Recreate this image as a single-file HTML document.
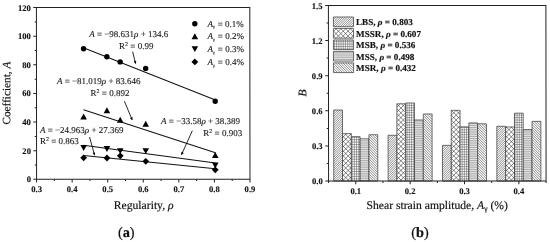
<!DOCTYPE html><html><head><meta charset="utf-8"><title>Figure</title><style>
html,body{margin:0;padding:0;background:#fff;}body{width:550px;height:242px;overflow:hidden;}svg{display:block;}
text{font-family:"Liberation Serif","DejaVu Serif",serif;fill:#111;text-rendering:geometricPrecision;}
.tk{font-weight:bold;font-size:8.6px;stroke:#111;stroke-width:0.12px;}.eq{font-size:9px;fill:#1a1a1a;stroke:#1a1a1a;stroke-width:0.12px;}.ax{font-size:11.65px;stroke:#111;stroke-width:0.17px;}.lg{font-weight:bold;font-size:9.15px;stroke:#111;stroke-width:0.15px;}.cap{font-size:14.3px;stroke:#111;stroke-width:0.2px;}
.i{font-style:italic;}
</style></head><body>
<svg width="550" height="242" viewBox="0 0 550 242">
<rect width="550" height="242" fill="#fff"/>
<g transform="matrix(1 0 0.001 1 0 0)">
<defs>
<marker id="ah" viewBox="0 0 10 10" refX="9" refY="5" markerWidth="5.6" markerHeight="3.3" orient="auto"><path d="M0 0L10 5L0 10z" fill="#111"/></marker>
</defs>
<rect x="36.4" y="7.6" width="213.40" height="171.70" fill="none" stroke="#222" stroke-width="1"/>
<path d="M33.20 179.30H36.4M34.60 164.99H36.4M33.20 150.68H36.4M34.60 136.38H36.4M33.20 122.07H36.4M34.60 107.76H36.4M33.20 93.45H36.4M34.60 79.14H36.4M33.20 64.83H36.4M34.60 50.53H36.4M33.20 36.22H36.4M34.60 21.91H36.4M33.20 7.60H36.4M36.40 179.3V182.50M54.18 179.3V181.10M71.97 179.3V182.50M89.75 179.3V181.10M107.53 179.3V182.50M125.32 179.3V181.10M143.10 179.3V182.50M160.88 179.3V181.10M178.67 179.3V182.50M196.45 179.3V181.10M214.23 179.3V182.50M232.02 179.3V181.10M249.80 179.3V182.50" stroke="#222" stroke-width="1" fill="none"/>
<text class="tk" x="30.80" y="182.20" text-anchor="end">0</text>
<text class="tk" x="30.80" y="153.58" text-anchor="end">20</text>
<text class="tk" x="30.80" y="124.97" text-anchor="end">40</text>
<text class="tk" x="30.80" y="96.35" text-anchor="end">60</text>
<text class="tk" x="30.80" y="67.73" text-anchor="end">80</text>
<text class="tk" x="30.80" y="39.12" text-anchor="end">100</text>
<text class="tk" x="30.80" y="10.50" text-anchor="end">120</text>
<text class="tk" x="36.40" y="192" text-anchor="middle">0.3</text>
<text class="tk" x="71.97" y="192" text-anchor="middle">0.4</text>
<text class="tk" x="107.53" y="192" text-anchor="middle">0.5</text>
<text class="tk" x="143.10" y="192" text-anchor="middle">0.6</text>
<text class="tk" x="178.67" y="192" text-anchor="middle">0.7</text>
<text class="tk" x="214.23" y="192" text-anchor="middle">0.8</text>
<text class="tk" x="249.80" y="192" text-anchor="middle">0.9</text>
<text class="ax" style="font-size:11.25px" transform="translate(10.1 93.1) rotate(-90)" text-anchor="middle">Coefficient, <tspan class="i">A</tspan></text>
<text class="ax" x="143.5" y="208.6" text-anchor="middle">Regularity, <tspan class="i">ρ</tspan></text>
<text class="cap" x="126" y="237" text-anchor="middle">(<tspan font-weight="bold">a</tspan>)</text>
<line x1="83.35" y1="47.68" x2="215.30" y2="100.03" stroke="#111" stroke-width="1"/>
<line x1="83.35" y1="109.70" x2="215.30" y2="152.70" stroke="#111" stroke-width="1"/>
<line x1="83.35" y1="145.13" x2="215.30" y2="162.95" stroke="#111" stroke-width="1"/>
<line x1="83.35" y1="155.57" x2="215.30" y2="168.82" stroke="#111" stroke-width="1"/>
<circle cx="83.5" cy="48.8" r="2.7" fill="#000"/>
<circle cx="106.8" cy="56.7" r="2.7" fill="#000"/>
<circle cx="120.1" cy="61.9" r="2.7" fill="#000"/>
<circle cx="145.6" cy="68.4" r="2.7" fill="#000"/>
<circle cx="215.1" cy="101.2" r="2.7" fill="#000"/>
<path d="M80.20 119.54L86.80 119.54L83.50 113.60z" fill="#000"/>
<path d="M103.50 113.14L110.10 113.14L106.80 107.20z" fill="#000"/>
<path d="M116.80 122.74L123.40 122.74L120.10 116.80z" fill="#000"/>
<path d="M142.30 126.64L148.90 126.64L145.60 120.70z" fill="#000"/>
<path d="M211.80 157.94L218.40 157.94L215.10 152.00z" fill="#000"/>
<path d="M80.20 144.96L86.80 144.96L83.50 150.90z" fill="#000"/>
<path d="M103.50 145.96L110.10 145.96L106.80 151.90z" fill="#000"/>
<path d="M116.80 148.16L123.40 148.16L120.10 154.10z" fill="#000"/>
<path d="M142.30 148.16L148.90 148.16L145.60 154.10z" fill="#000"/>
<path d="M211.80 162.56L218.40 162.56L215.10 168.50z" fill="#000"/>
<path d="M80.10 157.80L83.50 154.40L86.90 157.80L83.50 161.20z" fill="#000"/>
<path d="M103.40 158.00L106.80 154.60L110.20 158.00L106.80 161.40z" fill="#000"/>
<path d="M116.70 155.80L120.10 152.40L123.50 155.80L120.10 159.20z" fill="#000"/>
<path d="M142.20 161.30L145.60 157.90L149.00 161.30L145.60 164.70z" fill="#000"/>
<path d="M211.70 169.80L215.10 166.40L218.50 169.80L215.10 173.20z" fill="#000"/>
<circle cx="194.8" cy="23.7" r="2.7" fill="#000"/>
<path d="M191.50 39.24L198.10 39.24L194.80 33.30z" fill="#000"/>
<path d="M191.50 46.16L198.10 46.16L194.80 52.10z" fill="#000"/>
<path d="M191.40 61.90L194.80 58.50L198.20 61.90L194.80 65.30z" fill="#000"/>
<text class="eq" x="207.5" y="26.6"><tspan class="i">A</tspan><tspan font-size="5px" dy="1.8" dx="-0.3">γ</tspan><tspan dy="-1.8" dx="0.6"> = 0.1%</tspan></text>
<text class="eq" x="207.5" y="39.3"><tspan class="i">A</tspan><tspan font-size="5px" dy="1.8" dx="-0.3">γ</tspan><tspan dy="-1.8" dx="0.6"> = 0.2%</tspan></text>
<text class="eq" x="207.5" y="52.0"><tspan class="i">A</tspan><tspan font-size="5px" dy="1.8" dx="-0.3">γ</tspan><tspan dy="-1.8" dx="0.6"> = 0.3%</tspan></text>
<text class="eq" x="207.5" y="64.8"><tspan class="i">A</tspan><tspan font-size="5px" dy="1.8" dx="-0.3">γ</tspan><tspan dy="-1.8" dx="0.6"> = 0.4%</tspan></text>
<text class="eq" x="168.2" y="37" text-anchor="end"><tspan class="i">A</tspan> = −98.631<tspan class="i">ρ</tspan> + 134.6</text>
<text class="eq" x="153.4" y="49.0" text-anchor="end">R<tspan font-size="6px" dy="-3.2">2</tspan><tspan dy="3.2"> = 0.99</tspan></text>
<text class="eq" x="140.4" y="83.7" text-anchor="end"><tspan class="i">A</tspan> = −81.019<tspan class="i">ρ</tspan> + 83.646</text>
<text class="eq" x="129.3" y="95.9" text-anchor="end">R<tspan font-size="6px" dy="-3.2">2</tspan><tspan dy="3.2"> = 0.892</tspan></text>
<text class="eq" x="39.8" y="132.8" text-anchor="start"><tspan class="i">A</tspan> = −24.963<tspan class="i">ρ</tspan> + 27.369</text>
<text class="eq" x="39.8" y="144.2" text-anchor="start">R<tspan font-size="6px" dy="-3.2">2</tspan><tspan dy="3.2"> = 0.863</tspan></text>
<text class="eq" x="240.0" y="124.2" text-anchor="end"><tspan class="i">A</tspan> = −33.58<tspan class="i">ρ</tspan> + 38.389</text>
<text class="eq" x="242" y="136.2" text-anchor="end">R<tspan font-size="6px" dy="-3.2">2</tspan><tspan dy="3.2"> = 0.903</tspan></text>
<line x1="132.6" y1="51.6" x2="135.5" y2="63.6" stroke="#111" stroke-width="0.9" marker-end="url(#ah)"/>
<line x1="124.3" y1="101.2" x2="132.1" y2="120.0" stroke="#111" stroke-width="0.9" marker-end="url(#ah)"/>
<line x1="89.4" y1="137.0" x2="94.4" y2="155.1" stroke="#111" stroke-width="0.9" marker-end="url(#ah)"/>
<line x1="192.2" y1="130.7" x2="181.3" y2="154.8" stroke="#111" stroke-width="0.9" marker-end="url(#ah)"/>
<rect x="333.59" y="110.00" width="8.80" height="71.10" fill="#fff"/><path d="M333.59 111.91L335.50 110.00M333.59 114.16L337.75 110.00M333.59 116.41L340.00 110.00M333.59 118.66L342.25 110.00M333.59 120.91L342.39 112.11M333.59 123.16L342.39 114.36M333.59 125.41L342.39 116.61M333.59 127.66L342.39 118.86M333.59 129.91L342.39 121.11M333.59 132.16L342.39 123.36M333.59 134.41L342.39 125.61M333.59 136.66L342.39 127.86M333.59 138.91L342.39 130.11M333.59 141.16L342.39 132.36M333.59 143.41L342.39 134.61M333.59 145.66L342.39 136.86M333.59 147.91L342.39 139.11M333.59 150.16L342.39 141.36M333.59 152.41L342.39 143.61M333.59 154.66L342.39 145.86M333.59 156.91L342.39 148.11M333.59 159.16L342.39 150.36M333.59 161.41L342.39 152.61M333.59 163.66L342.39 154.86M333.59 165.91L342.39 157.11M333.59 168.16L342.39 159.36M333.59 170.41L342.39 161.61M333.59 172.66L342.39 163.86M333.59 174.91L342.39 166.11M333.59 177.16L342.39 168.36M333.59 179.41L342.39 170.61M334.15 181.10L342.39 172.86M336.40 181.10L342.39 175.11M338.65 181.10L342.39 177.36M340.90 181.10L342.39 179.61" stroke="#505050" stroke-width="0.65" fill="none"/><rect x="333.59" y="110.00" width="8.80" height="71.10" fill="none" stroke="#333" stroke-width="0.7"/>
<rect x="342.39" y="133.66" width="8.80" height="47.44" fill="#fff"/><path d="M342.39 137.61L346.34 133.66M342.39 142.41L351.14 133.66M342.39 147.21L351.19 138.41M342.39 152.01L351.19 143.21M342.39 156.81L351.19 148.01M342.39 161.61L351.19 152.81M342.39 166.41L351.19 157.61M342.39 171.21L351.19 162.41M342.39 176.01L351.19 167.21M342.39 180.81L351.19 172.01M346.90 181.10L351.19 176.81M342.39 179.19L344.30 181.10M342.39 174.39L349.10 181.10M342.39 169.59L351.19 178.39M342.39 164.79L351.19 173.59M342.39 159.99L351.19 168.79M342.39 155.19L351.19 163.99M342.39 150.39L351.19 159.19M342.39 145.59L351.19 154.39M342.39 140.79L351.19 149.59M342.39 135.99L351.19 144.79M344.86 133.66L351.19 139.99M349.66 133.66L351.19 135.19" stroke="#333" stroke-width="0.6" fill="none"/><rect x="342.39" y="133.66" width="8.80" height="47.44" fill="none" stroke="#333" stroke-width="0.7"/>
<rect x="351.19" y="136.71" width="8.80" height="44.39" fill="#fff"/><path d="M351.19 137.20H359.99M351.19 139.65H359.99M351.19 142.10H359.99M351.19 144.55H359.99M351.19 147.00H359.99M351.19 149.45H359.99M351.19 151.90H359.99M351.19 154.35H359.99M351.19 156.80H359.99M351.19 159.25H359.99M351.19 161.70H359.99M351.19 164.15H359.99M351.19 166.60H359.99M351.19 169.05H359.99M351.19 171.50H359.99M351.19 173.95H359.99M351.19 176.40H359.99M351.19 178.85H359.99M352.00 136.71V181.10M354.20 136.71V181.10M356.40 136.71V181.10M358.60 136.71V181.10" stroke="#3c3c3c" stroke-width="0.45" fill="none"/><rect x="351.19" y="136.71" width="8.80" height="44.39" fill="none" stroke="#333" stroke-width="0.7"/>
<rect x="359.99" y="138.81" width="8.80" height="42.29" fill="#e4e4e4"/><path d="M359.99 140.80H368.79M359.99 143.00H368.79M359.99 145.20H368.79M359.99 147.40H368.79M359.99 149.60H368.79M359.99 151.80H368.79M359.99 154.00H368.79M359.99 156.20H368.79M359.99 158.40H368.79M359.99 160.60H368.79M359.99 162.80H368.79M359.99 165.00H368.79M359.99 167.20H368.79M359.99 169.40H368.79M359.99 171.60H368.79M359.99 173.80H368.79M359.99 176.00H368.79M359.99 178.20H368.79M359.99 180.40H368.79" stroke="#999" stroke-width="0.8" fill="none"/><rect x="359.99" y="138.81" width="8.80" height="42.29" fill="none" stroke="#333" stroke-width="0.7"/>
<rect x="368.79" y="134.72" width="8.80" height="46.38" fill="#fff"/><path d="M368.79 178.79L371.10 181.10M368.79 176.29L373.60 181.10M368.79 173.79L376.10 181.10M368.79 171.29L377.59 180.09M368.79 168.79L377.59 177.59M368.79 166.29L377.59 175.09M368.79 163.79L377.59 172.59M368.79 161.29L377.59 170.09M368.79 158.79L377.59 167.59M368.79 156.29L377.59 165.09M368.79 153.79L377.59 162.59M368.79 151.29L377.59 160.09M368.79 148.79L377.59 157.59M368.79 146.29L377.59 155.09M368.79 143.79L377.59 152.59M368.79 141.29L377.59 150.09M368.79 138.79L377.59 147.59M368.79 136.29L377.59 145.09M369.72 134.72L377.59 142.59M372.22 134.72L377.59 140.09M374.72 134.72L377.59 137.59M377.22 134.72L377.59 135.09" stroke="#3c3c3c" stroke-width="0.6" fill="none"/><rect x="368.79" y="134.72" width="8.80" height="46.38" fill="none" stroke="#333" stroke-width="0.7"/>
<rect x="387.96" y="135.30" width="8.80" height="45.80" fill="#fff"/><path d="M387.96 136.29L388.95 135.30M387.96 138.54L391.20 135.30M387.96 140.79L393.45 135.30M387.96 143.04L395.70 135.30M387.96 145.29L396.76 136.49M387.96 147.54L396.76 138.74M387.96 149.79L396.76 140.99M387.96 152.04L396.76 143.24M387.96 154.29L396.76 145.49M387.96 156.54L396.76 147.74M387.96 158.79L396.76 149.99M387.96 161.04L396.76 152.24M387.96 163.29L396.76 154.49M387.96 165.54L396.76 156.74M387.96 167.79L396.76 158.99M387.96 170.04L396.76 161.24M387.96 172.29L396.76 163.49M387.96 174.54L396.76 165.74M387.96 176.79L396.76 167.99M387.96 179.04L396.76 170.24M388.15 181.10L396.76 172.49M390.40 181.10L396.76 174.74M392.65 181.10L396.76 176.99M394.90 181.10L396.76 179.24" stroke="#505050" stroke-width="0.65" fill="none"/><rect x="387.96" y="135.30" width="8.80" height="45.80" fill="none" stroke="#333" stroke-width="0.7"/>
<rect x="396.76" y="103.79" width="8.80" height="77.31" fill="#fff"/><path d="M396.76 107.24L400.21 103.79M396.76 112.04L405.01 103.79M396.76 116.84L405.56 108.04M396.76 121.64L405.56 112.84M396.76 126.44L405.56 117.64M396.76 131.24L405.56 122.44M396.76 136.04L405.56 127.24M396.76 140.84L405.56 132.04M396.76 145.64L405.56 136.84M396.76 150.44L405.56 141.64M396.76 155.24L405.56 146.44M396.76 160.04L405.56 151.24M396.76 164.84L405.56 156.04M396.76 169.64L405.56 160.84M396.76 174.44L405.56 165.64M396.76 179.24L405.56 170.44M399.70 181.10L405.56 175.24M404.50 181.10L405.56 180.04M396.76 180.76L397.10 181.10M396.76 175.96L401.90 181.10M396.76 171.16L405.56 179.96M396.76 166.36L405.56 175.16M396.76 161.56L405.56 170.36M396.76 156.76L405.56 165.56M396.76 151.96L405.56 160.76M396.76 147.16L405.56 155.96M396.76 142.36L405.56 151.16M396.76 137.56L405.56 146.36M396.76 132.76L405.56 141.56M396.76 127.96L405.56 136.76M396.76 123.16L405.56 131.96M396.76 118.36L405.56 127.16M396.76 113.56L405.56 122.36M396.76 108.76L405.56 117.56M396.76 103.96L405.56 112.76M401.39 103.79L405.56 107.96" stroke="#333" stroke-width="0.6" fill="none"/><rect x="396.76" y="103.79" width="8.80" height="77.31" fill="none" stroke="#333" stroke-width="0.7"/>
<rect x="405.56" y="102.97" width="8.80" height="78.13" fill="#fff"/><path d="M405.56 105.35H414.36M405.56 107.80H414.36M405.56 110.25H414.36M405.56 112.70H414.36M405.56 115.15H414.36M405.56 117.60H414.36M405.56 120.05H414.36M405.56 122.50H414.36M405.56 124.95H414.36M405.56 127.40H414.36M405.56 129.85H414.36M405.56 132.30H414.36M405.56 134.75H414.36M405.56 137.20H414.36M405.56 139.65H414.36M405.56 142.10H414.36M405.56 144.55H414.36M405.56 147.00H414.36M405.56 149.45H414.36M405.56 151.90H414.36M405.56 154.35H414.36M405.56 156.80H414.36M405.56 159.25H414.36M405.56 161.70H414.36M405.56 164.15H414.36M405.56 166.60H414.36M405.56 169.05H414.36M405.56 171.50H414.36M405.56 173.95H414.36M405.56 176.40H414.36M405.56 178.85H414.36M407.00 102.97V181.10M409.20 102.97V181.10M411.40 102.97V181.10M413.60 102.97V181.10" stroke="#3c3c3c" stroke-width="0.45" fill="none"/><rect x="405.56" y="102.97" width="8.80" height="78.13" fill="none" stroke="#333" stroke-width="0.7"/>
<rect x="414.36" y="119.96" width="8.80" height="61.14" fill="#e4e4e4"/><path d="M414.36 121.00H423.16M414.36 123.20H423.16M414.36 125.40H423.16M414.36 127.60H423.16M414.36 129.80H423.16M414.36 132.00H423.16M414.36 134.20H423.16M414.36 136.40H423.16M414.36 138.60H423.16M414.36 140.80H423.16M414.36 143.00H423.16M414.36 145.20H423.16M414.36 147.40H423.16M414.36 149.60H423.16M414.36 151.80H423.16M414.36 154.00H423.16M414.36 156.20H423.16M414.36 158.40H423.16M414.36 160.60H423.16M414.36 162.80H423.16M414.36 165.00H423.16M414.36 167.20H423.16M414.36 169.40H423.16M414.36 171.60H423.16M414.36 173.80H423.16M414.36 176.00H423.16M414.36 178.20H423.16M414.36 180.40H423.16" stroke="#999" stroke-width="0.8" fill="none"/><rect x="414.36" y="119.96" width="8.80" height="61.14" fill="none" stroke="#333" stroke-width="0.7"/>
<rect x="423.16" y="113.98" width="8.80" height="67.12" fill="#fff"/><path d="M423.16 180.66L423.60 181.10M423.16 178.16L426.10 181.10M423.16 175.66L428.60 181.10M423.16 173.16L431.10 181.10M423.16 170.66L431.96 179.46M423.16 168.16L431.96 176.96M423.16 165.66L431.96 174.46M423.16 163.16L431.96 171.96M423.16 160.66L431.96 169.46M423.16 158.16L431.96 166.96M423.16 155.66L431.96 164.46M423.16 153.16L431.96 161.96M423.16 150.66L431.96 159.46M423.16 148.16L431.96 156.96M423.16 145.66L431.96 154.46M423.16 143.16L431.96 151.96M423.16 140.66L431.96 149.46M423.16 138.16L431.96 146.96M423.16 135.66L431.96 144.46M423.16 133.16L431.96 141.96M423.16 130.66L431.96 139.46M423.16 128.16L431.96 136.96M423.16 125.66L431.96 134.46M423.16 123.16L431.96 131.96M423.16 120.66L431.96 129.46M423.16 118.16L431.96 126.96M423.16 115.66L431.96 124.46M423.98 113.98L431.96 121.96M426.48 113.98L431.96 119.46M428.98 113.98L431.96 116.96M431.48 113.98L431.96 114.46" stroke="#3c3c3c" stroke-width="0.6" fill="none"/><rect x="423.16" y="113.98" width="8.80" height="67.12" fill="none" stroke="#333" stroke-width="0.7"/>
<rect x="442.34" y="145.37" width="8.80" height="35.73" fill="#fff"/><path d="M442.34 147.16L444.13 145.37M442.34 149.41L446.38 145.37M442.34 151.66L448.63 145.37M442.34 153.91L450.88 145.37M442.34 156.16L451.14 147.36M442.34 158.41L451.14 149.61M442.34 160.66L451.14 151.86M442.34 162.91L451.14 154.11M442.34 165.16L451.14 156.36M442.34 167.41L451.14 158.61M442.34 169.66L451.14 160.86M442.34 171.91L451.14 163.11M442.34 174.16L451.14 165.36M442.34 176.41L451.14 167.61M442.34 178.66L451.14 169.86M442.34 180.91L451.14 172.11M444.40 181.10L451.14 174.36M446.65 181.10L451.14 176.61M448.90 181.10L451.14 178.86" stroke="#505050" stroke-width="0.65" fill="none"/><rect x="442.34" y="145.37" width="8.80" height="35.73" fill="none" stroke="#333" stroke-width="0.7"/>
<rect x="451.14" y="110.35" width="8.80" height="70.75" fill="#fff"/><path d="M451.14 110.46L451.25 110.35M451.14 115.26L456.05 110.35M451.14 120.06L459.94 111.26M451.14 124.86L459.94 116.06M451.14 129.66L459.94 120.86M451.14 134.46L459.94 125.66M451.14 139.26L459.94 130.46M451.14 144.06L459.94 135.26M451.14 148.86L459.94 140.06M451.14 153.66L459.94 144.86M451.14 158.46L459.94 149.66M451.14 163.26L459.94 154.46M451.14 168.06L459.94 159.26M451.14 172.86L459.94 164.06M451.14 177.66L459.94 168.86M452.50 181.10L459.94 173.66M457.30 181.10L459.94 178.46M451.14 177.54L454.70 181.10M451.14 172.74L459.50 181.10M451.14 167.94L459.94 176.74M451.14 163.14L459.94 171.94M451.14 158.34L459.94 167.14M451.14 153.54L459.94 162.34M451.14 148.74L459.94 157.54M451.14 143.94L459.94 152.74M451.14 139.14L459.94 147.94M451.14 134.34L459.94 143.14M451.14 129.54L459.94 138.34M451.14 124.74L459.94 133.54M451.14 119.94L459.94 128.74M451.14 115.14L459.94 123.94M451.15 110.35L459.94 119.14M455.95 110.35L459.94 114.34" stroke="#333" stroke-width="0.6" fill="none"/><rect x="451.14" y="110.35" width="8.80" height="70.75" fill="none" stroke="#333" stroke-width="0.7"/>
<rect x="459.94" y="126.87" width="8.80" height="54.23" fill="#fff"/><path d="M459.94 127.40H468.74M459.94 129.85H468.74M459.94 132.30H468.74M459.94 134.75H468.74M459.94 137.20H468.74M459.94 139.65H468.74M459.94 142.10H468.74M459.94 144.55H468.74M459.94 147.00H468.74M459.94 149.45H468.74M459.94 151.90H468.74M459.94 154.35H468.74M459.94 156.80H468.74M459.94 159.25H468.74M459.94 161.70H468.74M459.94 164.15H468.74M459.94 166.60H468.74M459.94 169.05H468.74M459.94 171.50H468.74M459.94 173.95H468.74M459.94 176.40H468.74M459.94 178.85H468.74M462.00 126.87V181.10M464.20 126.87V181.10M466.40 126.87V181.10M468.60 126.87V181.10" stroke="#3c3c3c" stroke-width="0.45" fill="none"/><rect x="459.94" y="126.87" width="8.80" height="54.23" fill="none" stroke="#333" stroke-width="0.7"/>
<rect x="468.74" y="123.00" width="8.80" height="58.10" fill="#e4e4e4"/><path d="M468.74 123.20H477.54M468.74 125.40H477.54M468.74 127.60H477.54M468.74 129.80H477.54M468.74 132.00H477.54M468.74 134.20H477.54M468.74 136.40H477.54M468.74 138.60H477.54M468.74 140.80H477.54M468.74 143.00H477.54M468.74 145.20H477.54M468.74 147.40H477.54M468.74 149.60H477.54M468.74 151.80H477.54M468.74 154.00H477.54M468.74 156.20H477.54M468.74 158.40H477.54M468.74 160.60H477.54M468.74 162.80H477.54M468.74 165.00H477.54M468.74 167.20H477.54M468.74 169.40H477.54M468.74 171.60H477.54M468.74 173.80H477.54M468.74 176.00H477.54M468.74 178.20H477.54M468.74 180.40H477.54" stroke="#999" stroke-width="0.8" fill="none"/><rect x="468.74" y="123.00" width="8.80" height="58.10" fill="none" stroke="#333" stroke-width="0.7"/>
<rect x="477.54" y="123.82" width="8.80" height="57.28" fill="#fff"/><path d="M477.54 180.04L478.60 181.10M477.54 177.54L481.10 181.10M477.54 175.04L483.60 181.10M477.54 172.54L486.10 181.10M477.54 170.04L486.34 178.84M477.54 167.54L486.34 176.34M477.54 165.04L486.34 173.84M477.54 162.54L486.34 171.34M477.54 160.04L486.34 168.84M477.54 157.54L486.34 166.34M477.54 155.04L486.34 163.84M477.54 152.54L486.34 161.34M477.54 150.04L486.34 158.84M477.54 147.54L486.34 156.34M477.54 145.04L486.34 153.84M477.54 142.54L486.34 151.34M477.54 140.04L486.34 148.84M477.54 137.54L486.34 146.34M477.54 135.04L486.34 143.84M477.54 132.54L486.34 141.34M477.54 130.04L486.34 138.84M477.54 127.54L486.34 136.34M477.54 125.04L486.34 133.84M478.82 123.82L486.34 131.34M481.32 123.82L486.34 128.84M483.82 123.82L486.34 126.34" stroke="#3c3c3c" stroke-width="0.6" fill="none"/><rect x="477.54" y="123.82" width="8.80" height="57.28" fill="none" stroke="#333" stroke-width="0.7"/>
<rect x="496.71" y="126.28" width="8.80" height="54.82" fill="#fff"/><path d="M496.71 126.54L496.97 126.28M496.71 128.79L499.22 126.28M496.71 131.04L501.47 126.28M496.71 133.29L503.72 126.28M496.71 135.54L505.51 126.74M496.71 137.79L505.51 128.99M496.71 140.04L505.51 131.24M496.71 142.29L505.51 133.49M496.71 144.54L505.51 135.74M496.71 146.79L505.51 137.99M496.71 149.04L505.51 140.24M496.71 151.29L505.51 142.49M496.71 153.54L505.51 144.74M496.71 155.79L505.51 146.99M496.71 158.04L505.51 149.24M496.71 160.29L505.51 151.49M496.71 162.54L505.51 153.74M496.71 164.79L505.51 155.99M496.71 167.04L505.51 158.24M496.71 169.29L505.51 160.49M496.71 171.54L505.51 162.74M496.71 173.79L505.51 164.99M496.71 176.04L505.51 167.24M496.71 178.29L505.51 169.49M496.71 180.54L505.51 171.74M498.40 181.10L505.51 173.99M500.65 181.10L505.51 176.24M502.90 181.10L505.51 178.49M505.15 181.10L505.51 180.74" stroke="#505050" stroke-width="0.65" fill="none"/><rect x="496.71" y="126.28" width="8.80" height="54.82" fill="none" stroke="#333" stroke-width="0.7"/>
<rect x="505.51" y="126.98" width="8.80" height="54.12" fill="#fff"/><path d="M505.51 128.09L506.62 126.98M505.51 132.89L511.42 126.98M505.51 137.69L514.31 128.89M505.51 142.49L514.31 133.69M505.51 147.29L514.31 138.49M505.51 152.09L514.31 143.29M505.51 156.89L514.31 148.09M505.51 161.69L514.31 152.89M505.51 166.49L514.31 157.69M505.51 171.29L514.31 162.49M505.51 176.09L514.31 167.29M505.51 180.89L514.31 172.09M510.10 181.10L514.31 176.89M505.51 179.11L507.50 181.10M505.51 174.31L512.30 181.10M505.51 169.51L514.31 178.31M505.51 164.71L514.31 173.51M505.51 159.91L514.31 168.71M505.51 155.11L514.31 163.91M505.51 150.31L514.31 159.11M505.51 145.51L514.31 154.31M505.51 140.71L514.31 149.51M505.51 135.91L514.31 144.71M505.51 131.11L514.31 139.91M506.18 126.98L514.31 135.11M510.98 126.98L514.31 130.31" stroke="#333" stroke-width="0.6" fill="none"/><rect x="505.51" y="126.98" width="8.80" height="54.12" fill="none" stroke="#333" stroke-width="0.7"/>
<rect x="514.31" y="113.16" width="8.80" height="67.94" fill="#fff"/><path d="M514.31 115.15H523.11M514.31 117.60H523.11M514.31 120.05H523.11M514.31 122.50H523.11M514.31 124.95H523.11M514.31 127.40H523.11M514.31 129.85H523.11M514.31 132.30H523.11M514.31 134.75H523.11M514.31 137.20H523.11M514.31 139.65H523.11M514.31 142.10H523.11M514.31 144.55H523.11M514.31 147.00H523.11M514.31 149.45H523.11M514.31 151.90H523.11M514.31 154.35H523.11M514.31 156.80H523.11M514.31 159.25H523.11M514.31 161.70H523.11M514.31 164.15H523.11M514.31 166.60H523.11M514.31 169.05H523.11M514.31 171.50H523.11M514.31 173.95H523.11M514.31 176.40H523.11M514.31 178.85H523.11M514.80 113.16V181.10M517.00 113.16V181.10M519.20 113.16V181.10M521.40 113.16V181.10" stroke="#3c3c3c" stroke-width="0.45" fill="none"/><rect x="514.31" y="113.16" width="8.80" height="67.94" fill="none" stroke="#333" stroke-width="0.7"/>
<rect x="523.11" y="129.68" width="8.80" height="51.42" fill="#e4e4e4"/><path d="M523.11 129.80H531.91M523.11 132.00H531.91M523.11 134.20H531.91M523.11 136.40H531.91M523.11 138.60H531.91M523.11 140.80H531.91M523.11 143.00H531.91M523.11 145.20H531.91M523.11 147.40H531.91M523.11 149.60H531.91M523.11 151.80H531.91M523.11 154.00H531.91M523.11 156.20H531.91M523.11 158.40H531.91M523.11 160.60H531.91M523.11 162.80H531.91M523.11 165.00H531.91M523.11 167.20H531.91M523.11 169.40H531.91M523.11 171.60H531.91M523.11 173.80H531.91M523.11 176.00H531.91M523.11 178.20H531.91M523.11 180.40H531.91" stroke="#999" stroke-width="0.8" fill="none"/><rect x="523.11" y="129.68" width="8.80" height="51.42" fill="none" stroke="#333" stroke-width="0.7"/>
<rect x="531.91" y="121.36" width="8.80" height="59.74" fill="#fff"/><path d="M531.91 179.41L533.60 181.10M531.91 176.91L536.10 181.10M531.91 174.41L538.60 181.10M531.91 171.91L540.71 180.71M531.91 169.41L540.71 178.21M531.91 166.91L540.71 175.71M531.91 164.41L540.71 173.21M531.91 161.91L540.71 170.71M531.91 159.41L540.71 168.21M531.91 156.91L540.71 165.71M531.91 154.41L540.71 163.21M531.91 151.91L540.71 160.71M531.91 149.41L540.71 158.21M531.91 146.91L540.71 155.71M531.91 144.41L540.71 153.21M531.91 141.91L540.71 150.71M531.91 139.41L540.71 148.21M531.91 136.91L540.71 145.71M531.91 134.41L540.71 143.21M531.91 131.91L540.71 140.71M531.91 129.41L540.71 138.21M531.91 126.91L540.71 135.71M531.91 124.41L540.71 133.21M531.91 121.91L540.71 130.71M533.86 121.36L540.71 128.21M536.36 121.36L540.71 125.71M538.86 121.36L540.71 123.21" stroke="#3c3c3c" stroke-width="0.6" fill="none"/><rect x="531.91" y="121.36" width="8.80" height="59.74" fill="none" stroke="#333" stroke-width="0.7"/>
<rect x="328.4" y="5.4" width="217.50" height="175.70" fill="none" stroke="#222" stroke-width="1"/>
<path d="M325.20 181.10H328.4M326.60 163.53H328.4M325.20 145.96H328.4M326.60 128.39H328.4M325.20 110.82H328.4M326.60 93.25H328.4M325.20 75.68H328.4M326.60 58.11H328.4M325.20 40.54H328.4M326.60 22.97H328.4M325.20 5.40H328.4M355.59 181.1V184.30M409.96 181.1V184.30M464.34 181.1V184.30M518.71 181.1V184.30M328.40 181.1V182.90M382.77 181.1V182.90M437.15 181.1V182.90M491.52 181.1V182.90M545.90 181.1V182.90" stroke="#222" stroke-width="1" fill="none"/>
<text class="tk" x="322.50" y="184.25" text-anchor="end">0.0</text>
<text class="tk" x="322.50" y="149.11" text-anchor="end">0.3</text>
<text class="tk" x="322.50" y="113.97" text-anchor="end">0.6</text>
<text class="tk" x="322.50" y="78.83" text-anchor="end">0.9</text>
<text class="tk" x="322.50" y="43.69" text-anchor="end">1.2</text>
<text class="tk" x="322.50" y="8.55" text-anchor="end">1.5</text>
<text class="tk" x="355.59" y="194.3" text-anchor="middle">0.1</text>
<text class="tk" x="409.96" y="194.3" text-anchor="middle">0.2</text>
<text class="tk" x="464.34" y="194.3" text-anchor="middle">0.3</text>
<text class="tk" x="518.71" y="194.3" text-anchor="middle">0.4</text>
<text class="ax i" transform="translate(306.2 93) rotate(-90)" text-anchor="middle">B</text>
<text class="ax" x="437.05" y="208.8" text-anchor="middle">Shear strain amplitude, <tspan class="i">A</tspan><tspan font-size="7.5px" dy="2.4">γ</tspan><tspan dy="-2.4"> (%)</tspan></text>
<text class="cap" x="419.8" y="237" text-anchor="middle">(<tspan font-weight="bold">b</tspan>)</text>
<rect x="333.40" y="17.00" width="20.10" height="9.70" fill="#fff"/><path d="M333.40 17.60L334.00 17.00M333.40 19.85L336.25 17.00M333.40 22.10L338.50 17.00M333.40 24.35L340.75 17.00M333.40 26.60L343.00 17.00M335.55 26.70L345.25 17.00M337.80 26.70L347.50 17.00M340.05 26.70L349.75 17.00M342.30 26.70L352.00 17.00M344.55 26.70L353.50 17.75M346.80 26.70L353.50 20.00M349.05 26.70L353.50 22.25M351.30 26.70L353.50 24.50" stroke="#505050" stroke-width="0.65" fill="none"/><rect x="333.40" y="17.00" width="20.10" height="9.70" fill="none" stroke="#333" stroke-width="0.7"/>
<text class="lg" x="356" y="25.20">LBS, <tspan class="i">ρ</tspan> = 0.803</text>
<rect x="333.40" y="28.47" width="20.10" height="9.70" fill="#fff"/><path d="M333.40 31.40L336.33 28.47M333.40 36.20L341.13 28.47M336.23 38.17L345.93 28.47M341.03 38.17L350.73 28.47M345.83 38.17L353.50 30.50M350.63 38.17L353.50 35.30M333.40 35.80L335.77 38.17M333.40 31.00L340.57 38.17M335.67 28.47L345.37 38.17M340.47 28.47L350.17 38.17M345.27 28.47L353.50 36.70M350.07 28.47L353.50 31.90" stroke="#333" stroke-width="0.6" fill="none"/><rect x="333.40" y="28.47" width="20.10" height="9.70" fill="none" stroke="#333" stroke-width="0.7"/>
<text class="lg" x="356" y="36.67">MSSR, <tspan class="i">ρ</tspan> = 0.607</text>
<rect x="333.40" y="39.94" width="20.10" height="9.70" fill="#fff"/><path d="M333.40 41.65H353.50M333.40 44.10H353.50M333.40 46.55H353.50M333.40 49.00H353.50M334.40 39.94V49.64M336.60 39.94V49.64M338.80 39.94V49.64M341.00 39.94V49.64M343.20 39.94V49.64M345.40 39.94V49.64M347.60 39.94V49.64M349.80 39.94V49.64M352.00 39.94V49.64" stroke="#3c3c3c" stroke-width="0.45" fill="none"/><rect x="333.40" y="39.94" width="20.10" height="9.70" fill="none" stroke="#333" stroke-width="0.7"/>
<text class="lg" x="356" y="48.14">MSB, <tspan class="i">ρ</tspan> = 0.536</text>
<rect x="333.40" y="51.41" width="20.10" height="9.70" fill="#e4e4e4"/><path d="M333.40 52.80H353.50M333.40 55.00H353.50M333.40 57.20H353.50M333.40 59.40H353.50" stroke="#999" stroke-width="0.8" fill="none"/><rect x="333.40" y="51.41" width="20.10" height="9.70" fill="none" stroke="#333" stroke-width="0.7"/>
<text class="lg" x="356" y="59.61">MSS, <tspan class="i">ρ</tspan> = 0.498</text>
<rect x="333.40" y="62.88" width="20.10" height="9.70" fill="#fff"/><path d="M333.40 70.90L335.08 72.58M333.40 68.40L337.58 72.58M333.40 65.90L340.08 72.58M333.40 63.40L342.58 72.58M335.38 62.88L345.08 72.58M337.88 62.88L347.58 72.58M340.38 62.88L350.08 72.58M342.88 62.88L352.58 72.58M345.38 62.88L353.50 71.00M347.88 62.88L353.50 68.50M350.38 62.88L353.50 66.00M352.88 62.88L353.50 63.50" stroke="#3c3c3c" stroke-width="0.6" fill="none"/><rect x="333.40" y="62.88" width="20.10" height="9.70" fill="none" stroke="#333" stroke-width="0.7"/>
<text class="lg" x="356" y="71.08">MSR, <tspan class="i">ρ</tspan> = 0.432</text>
</g></svg></body></html>
